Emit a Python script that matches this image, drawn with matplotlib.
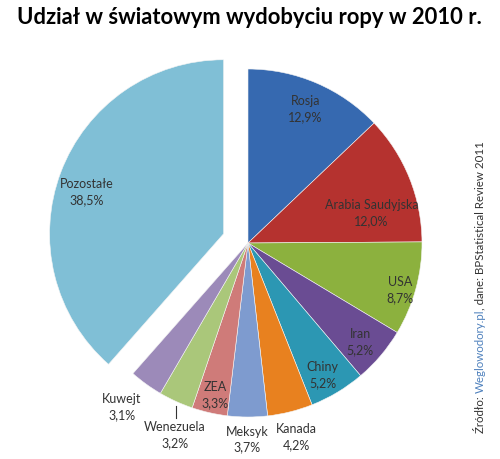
import matplotlib
matplotlib.use("Agg")
import matplotlib.pyplot as plt
import numpy as np

countries = ["Rosja", "Arabia Saudyjska", "USA", "Iran", "Chiny", "Kanada",
             "Meksyk", "ZEA", "Wenezuela", "Kuwejt", "Pozostałe"]
shares = [12.9, 12.0, 8.7, 5.2, 5.2, 4.2, 3.7, 3.3, 3.2, 3.1, 38.5]
colors = ["#3669B0", "#B5322F", "#8CB13E", "#6A4C93", "#2C97B3", "#E8811F",
          "#7E9BCF", "#CF7B79", "#AAC77A", "#9C8AB9", "#80BFD6"]
explode = [0, 0, 0, 0, 0, 0, 0, 0, 0, 0, 0.15]
# label placement: distance (fraction of radius) and angular offset (deg, clockwise)
label_dist = [0.84, 0.73, 0.915, 0.86, 0.87, 1.15, 1.13, 0.894, 1.18, 1.19, 0.82]
label_off = [0, 8.4, 1.9, 1.2, 1.4, 0, 0, -0.6, -3.7, 1.7, -3.7]

title = "Udział w światowym wydobyciu ropy w 2010 r."

W, H = 500, 459
cx, cy, R = 248, 243, 174

plt.rcParams['font.family'] = ['Lato', 'DejaVu Sans']
fig = plt.figure(figsize=(W / 100, H / 100), dpi=100)
fig.patch.set_facecolor("white")
ax = fig.add_axes([0, 0, 1, 1])

wedges, _ = ax.pie(shares, colors=colors, explode=explode, startangle=90,
                   counterclock=False, radius=1.0,
                   wedgeprops=dict(edgecolor="#F4F4F4", linewidth=0.4))
ax.set_aspect("auto")
ax.set_xlim(-cx / R, (W - cx) / R)
ax.set_ylim(-(H - cy) / R, cy / R)
ax.axis("off")

for w, name, val, d, off in zip(wedges, countries, shares, label_dist, label_off):
    th = np.deg2rad((w.theta1 + w.theta2) / 2 - off)
    x = w.center[0] + d * np.cos(th)
    y = w.center[1] + d * np.sin(th)
    txt = f"{name}\n{val:.1f}%".replace(".", ",")
    ax.text(x, y, txt, ha="center", va="center", fontsize=9,
            color="#333333", linespacing=1.4)

# leader line for Wenezuela
ax.plot([-72 / R, -72 / R], [-163 / R, -175 / R], color="#333333", lw=0.8)

fig.text(0.498, 1 - 18 / H, title, ha="center", va="center", fontsize=15.8,
         fontweight="bold", color="#000000")

# rotated source note
fs = 8.3
t1 = fig.text(480 / W, 1 - 433 / H, "Źródło: ", rotation=90, rotation_mode="anchor",
              ha="left", va="center", fontsize=fs, color="#333333")
t2 = fig.text(0, 0, "Weglowodory.pl", rotation=90, rotation_mode="anchor",
              ha="left", va="center", fontsize=fs, color="#4F81BD")
t3 = fig.text(0, 0, ", dane: BPStatistical Review 2011", rotation=90,
              rotation_mode="anchor", ha="left", va="center", fontsize=fs,
              color="#333333")
renderer = fig.canvas.get_renderer()
bb1 = t1.get_window_extent(renderer)
t2.set_position(((bb1.x0 + bb1.x1) / 2 / W, bb1.y1 / H))
bb2 = t2.get_window_extent(renderer)
t3.set_position(((bb2.x0 + bb2.x1) / 2 / W, bb2.y1 / H))

fig.savefig("out.png", dpi=100, facecolor="white")
